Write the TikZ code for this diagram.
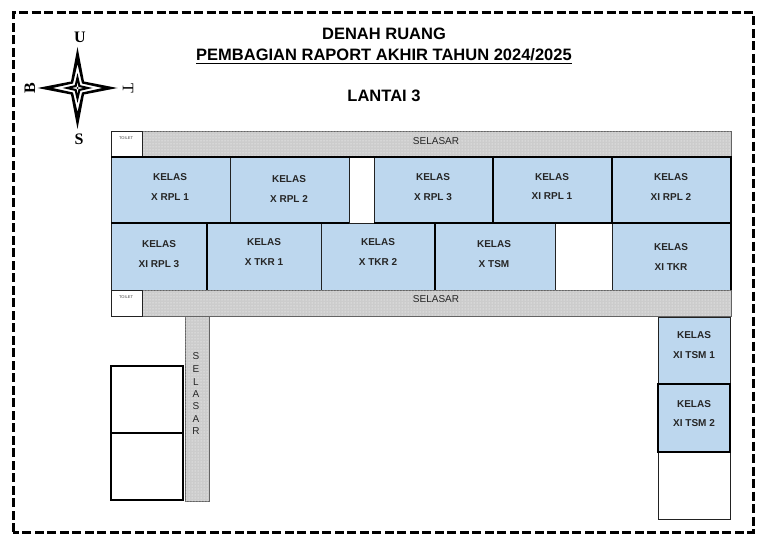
\documentclass[tikz,border=0pt]{standalone}
\usepackage{fontspec}
\setmainfont{Liberation Sans}
\newfontfamily\serifb{Liberation Serif}[Scale=1]
\usetikzlibrary{patterns}
\definecolor{kelasblue}{HTML}{BDD7EE}
\definecolor{edge}{HTML}{222222}
\tikzset{
  room/.style={draw=edge,line width=1pt,fill=kelasblue},
  roomthick/.style={draw=black,line width=1.5pt,fill=kelasblue},
  blank/.style={draw=edge,line width=1pt,fill=white},
  blankthick/.style={draw=black,line width=1.5pt,fill=white},
  corridor/.style={draw=edge!70,line width=1pt,fill=black!20,postaction={pattern=dots,pattern color=white}},
  lab/.style={font=\fontsize{10}{12}\selectfont\bfseries,text=black!85,inner sep=0pt},
  walk/.style={font=\fontsize{10}{12}\selectfont,text=black!85,inner sep=0pt},
  toilet/.style={font=\fontsize{4}{5}\selectfont,text=black!75,inner sep=0pt},
  wind/.style={font=\fontsize{16}{17}\selectfont\serifb\bfseries,inner sep=0pt},
  head/.style={font=\fontsize{16.5}{18}\selectfont\bfseries,inner sep=0pt},
  starout/.style={fill=black,draw=none,even odd rule},
}
\begin{document}
\begin{tikzpicture}[x=1pt,y=-1pt]
\useasboundingbox (0,0) rectangle (768,543);
\fill[white] (0,0) rectangle (768,543);
\draw[black,line width=3pt,dash pattern=on 9pt off 3.5pt] (13,532) -- (13,13) -- (753,13) -- (753,532) -- cycle;
% titles
\node[head] (t1) at (384,34) {DENAH RUANG};
\node[head] (t2) at (384,55) {PEMBAGIAN RAPORT AKHIR TAHUN 2024/2025};
\draw[black,line width=1.3pt] ([yshift=-2.5pt]t2.south west) -- ([yshift=-2.5pt]t2.south east);
\node[head] (t3) at (384,96) {LANTAI 3};
% compass
\begin{scope}[shift={(77.5,88)}]
\fill[starout] (0,-41) -- (6.5,-6.5) -- (40,0) -- (6.5,6.5) -- (0,41) -- (-6.5,6.5) -- (-40,0) -- (-6.5,-6.5) -- cycle
  (0,-24) -- (-4.5,-4.5) -- (-25,0) -- (-4.5,4.5) -- (0,24) -- (4.5,4.5) -- (25,0) -- (4.5,-4.5) -- cycle;
\fill[starout] (0,-15) -- (2.8,-2.8) -- (15,0) -- (2.8,2.8) -- (0,15) -- (-2.8,2.8) -- (-15,0) -- (-2.8,-2.8) -- cycle
  (0,-6) -- (-1,-1) -- (-6,0) -- (-1,1) -- (0,6) -- (1,1) -- (6,0) -- (1,-1) -- cycle;
\fill (0,0) circle (1pt);
\end{scope}
\node[wind] (nu) at (80,37) {U};
\node[wind] (ns) at (79,139) {S};
\node[wind,rotate=90] (nb) at (30,88) {B};
\node[wind,rotate=-90,font=\fontsize{16}{17}\selectfont\serifb] (nt) at (128,88) {T};
% top corridor
\draw[corridor] (142,131) rectangle (731,157);
\draw[blank] (111,131) rectangle (142,157);
\node[toilet] (ta) at (126,138) {TOILET};
\node[walk] (sa) at (436,141) {SELASAR};
% upper row
\draw[room] (111,157) rectangle (230,223);
\draw[room] (230,157) rectangle (349,223);
\draw[blank] (349,157) rectangle (374,223);
\draw[room] (374,157) rectangle (493,223);
\draw[roomthick] (493,157) rectangle (612,223);
\draw[roomthick] (612,157) rectangle (731,223);
\draw[black,line width=1.5pt] (111,157) -- (731,157);
\draw[black,line width=1.5pt] (230,223) -- (349,223) (374,223) -- (612,223);
\node[lab] at (170,177) {KELAS};\node[lab] at (170,197) {X RPL 1};
\node[lab] at (289,179) {KELAS};\node[lab] at (289,199) {X RPL 2};
\node[lab] at (433,177) {KELAS};\node[lab] at (433,197) {X RPL 3};
\node[lab] at (552,177) {KELAS};\node[lab] at (552,196) {XI RPL 1};
\node[lab] at (671,177) {KELAS};\node[lab] at (671,197) {XI RPL 2};
% lower row
\draw[room] (111,223.5) rectangle (207,290);
\draw[room] (207,223.5) rectangle (321,290);
\draw[room] (321,223.5) rectangle (435,290);
\draw[room] (435,223.5) rectangle (555,290);
\draw[blank] (555,223.5) rectangle (612,290);
\draw[room] (612,223.5) rectangle (731,290);
\draw[black,line width=1.5pt] (207,223.5) -- (207,290) (435,223.5) -- (435,290);
\draw[black,line width=1.5pt] (731,223) -- (731,290);
\draw[black,line width=1.5pt] (111,223) -- (349,223);
\draw[black,line width=1.2pt] (374,223) -- (731,223);
\node[lab] at (159,244) {KELAS};\node[lab] at (159,264) {XI RPL 3};
\node[lab] at (264,242) {KELAS};\node[lab] at (264,262) {X TKR 1};
\node[lab] at (378,242) {KELAS};\node[lab] at (378,262) {X TKR 2};
\node[lab] at (494,244) {KELAS};\node[lab] at (494,264) {X TSM};
\node[lab] at (671,247) {KELAS};\node[lab] at (671,267) {XI TKR};
% lower corridor
\draw[corridor] (142,290) rectangle (731,316);
\draw[blank] (111,290) rectangle (142,316);
\node[toilet] (tb) at (126,297) {TOILET};
\node[walk] (sb) at (436,299) {SELASAR};
% vertical corridor
\draw[corridor] (185,316) rectangle (209,501);
\foreach \c/\y in {S/356,E/369,L/382,A/394,S/406,A/419,R/431}{\node[walk] at (196,\y) {\c};}
% blank rooms left
\draw[blankthick] (111,366) rectangle (183,433);
\draw[blankthick] (111,433) rectangle (183,500);
% right stack
\draw[room] (658,317) rectangle (730,384);
\draw[blank] (658,452) rectangle (730,519);
\draw[roomthick] (658,384) rectangle (730,452);
\node[lab] at (694,335) {KELAS};\node[lab] at (694,355) {XI TSM 1};
\node[lab] at (694,404) {KELAS};\node[lab] at (694,423) {XI TSM 2};
\end{tikzpicture}
\end{document}
